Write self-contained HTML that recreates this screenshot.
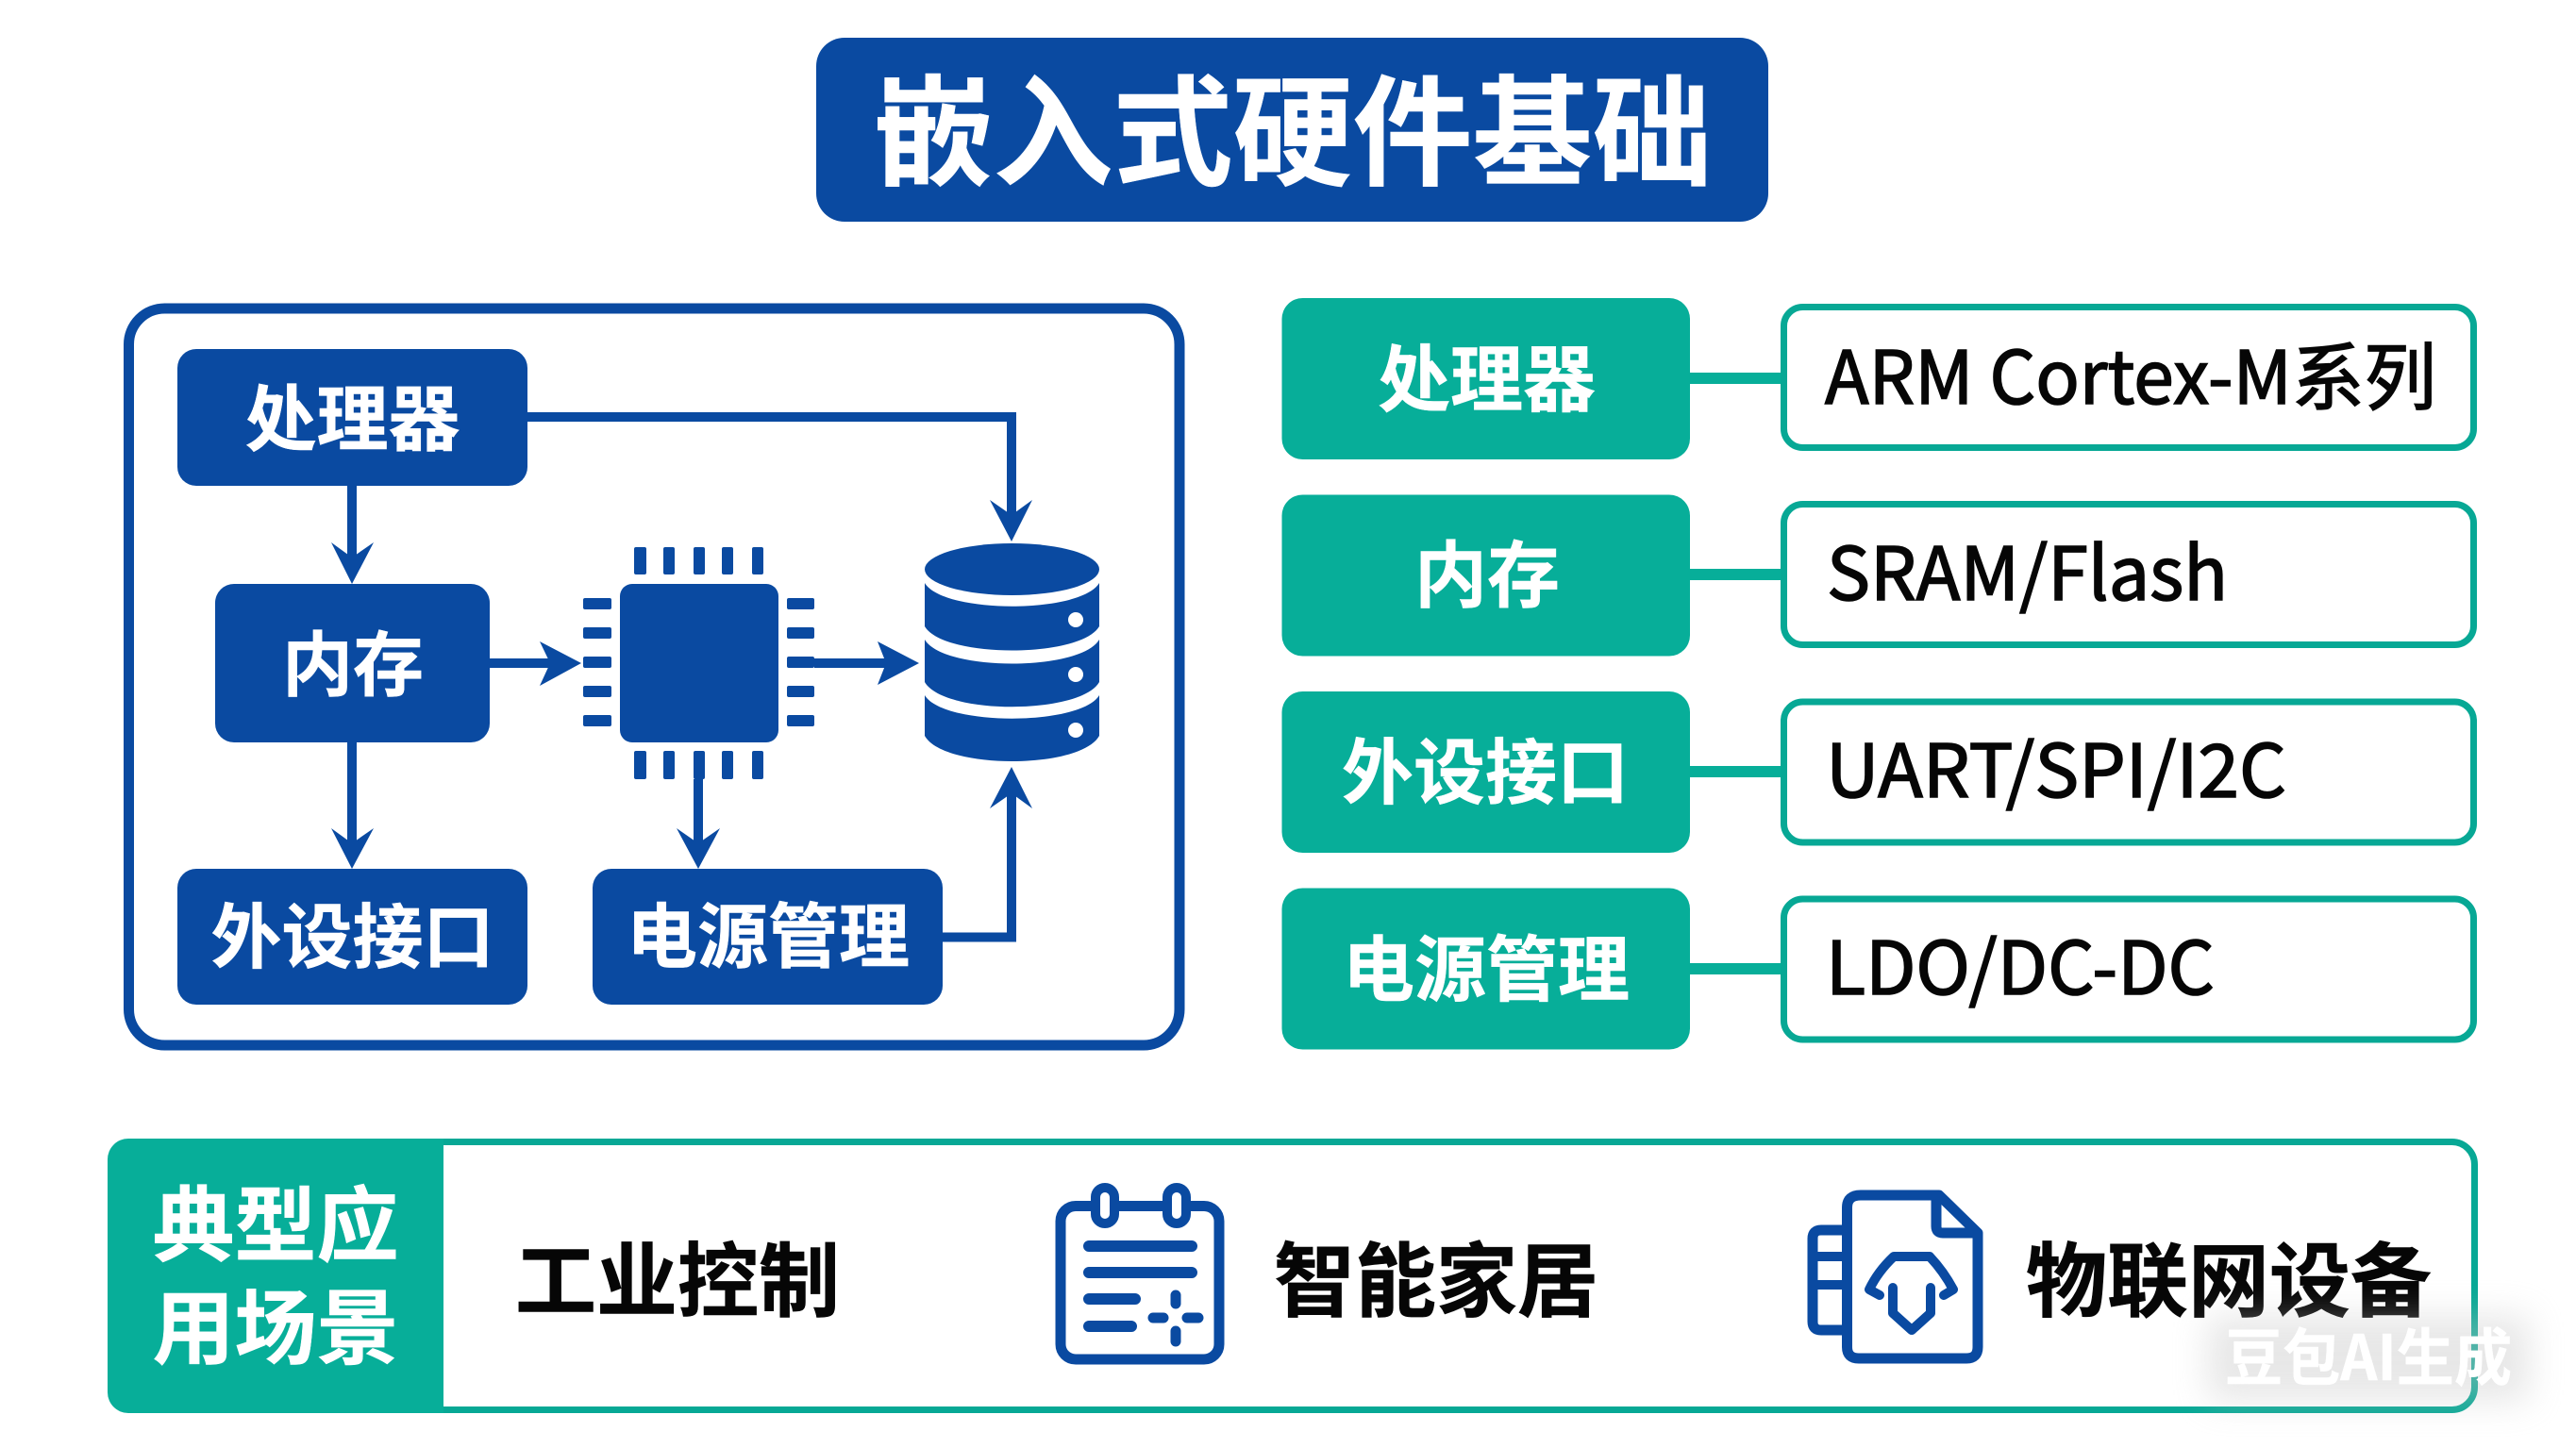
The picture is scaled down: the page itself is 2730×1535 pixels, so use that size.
<!DOCTYPE html>
<html><head><meta charset="utf-8"><style>
html,body{margin:0;padding:0;background:#fff;width:2730px;height:1535px;overflow:hidden}
svg{display:block}
text{font-family:"Noto Sans CJK SC","Liberation Sans",sans-serif;font-weight:700;text-anchor:middle;dominant-baseline:central}
.w{fill:#fff;stroke:#fff;stroke-width:.4}.k{fill:#060606;stroke:#060606;stroke-width:.6}
.l{font-weight:400;text-anchor:start;dominant-baseline:alphabetic;fill:#060606;stroke:#060606;stroke-width:1.6}
</style></head><body>
<svg width="2730" height="1535" viewBox="0 0 2730 1535" xmlns="http://www.w3.org/2000/svg">
<defs><filter id="gl" x="-30%" y="-60%" width="160%" height="220%"><feGaussianBlur stdDeviation="18"/></filter></defs>
<rect width="2730" height="1535" fill="#fff"/>
<rect x="865" y="40" width="1009" height="195" rx="30" fill="#0a4aa1"/>
<text class="w" x="1370" y="131.5" font-size="127">嵌入式硬件基础</text>

<rect x="136.5" y="327" width="1113.5" height="781" rx="38" fill="#fff" stroke="#0a4aa1" stroke-width="11"/>
<g fill="#0a4aa1">
<rect x="188" y="370" width="371" height="145" rx="20"/>
<rect x="228" y="619" width="291" height="168" rx="20"/>
<rect x="188" y="921" width="371" height="144" rx="20"/>
<rect x="628" y="921" width="371" height="144" rx="20"/>
<rect x="657" y="619" width="168" height="168" rx="13"/>
<rect x="672" y="580" width="13" height="29" rx="2"/><rect x="703" y="580" width="12" height="29" rx="2"/><rect x="735" y="580" width="12" height="29" rx="2"/><rect x="765" y="580" width="12" height="29" rx="2"/><rect x="797" y="580" width="12" height="29" rx="2"/>
<rect x="672" y="796" width="13" height="30" rx="2"/><rect x="703" y="796" width="12" height="30" rx="2"/><rect x="735" y="796" width="12" height="30" rx="2"/><rect x="765" y="796" width="12" height="30" rx="2"/><rect x="797" y="796" width="12" height="30" rx="2"/>
<rect x="618" y="634" width="30" height="12" rx="2"/><rect x="618" y="665" width="30" height="12" rx="2"/><rect x="618" y="696" width="30" height="12" rx="2"/><rect x="618" y="727" width="30" height="12" rx="2"/><rect x="618" y="758" width="30" height="12" rx="2"/>
<rect x="834" y="634" width="29" height="12" rx="2"/><rect x="834" y="665" width="29" height="12" rx="2"/><rect x="834" y="696" width="29" height="12" rx="2"/><rect x="834" y="727" width="29" height="12" rx="2"/><rect x="834" y="758" width="29" height="12" rx="2"/>
<ellipse cx="1072.5" cy="603.5" rx="92.5" ry="27.5"/>
<path d="M980 619 C1000 652 1145 652 1165 619 V665 C1145 699 1000 699 980 665Z" transform="translate(0,-1)"/>
<path d="M980 678 C1000 712 1145 712 1165 678 V723 C1145 758 1000 758 980 723Z"/>
<path d="M980 737 C1000 770 1145 770 1165 737 V780 C1145 816 1000 816 980 780Z"/>
<polygon points="373,619 351,575 373,591 396,575"/>
<polygon points="373,921 351,878 373,894 396,878"/>
<polygon points="740,921 717,878 740,894 763,878"/>
<polygon points="1072,574 1049,530 1072,546 1094,530"/>
<polygon points="1072,813 1049,857 1072,841 1094,857"/>
<polygon points="616,703 572,680 583,703 572,727"/>
<polygon points="974,703 930,680 939,703 930,726"/>
</g>
<g fill="#fff"><circle cx="1140" cy="657" r="8"/><circle cx="1140" cy="715" r="8"/><circle cx="1140" cy="774" r="8"/></g>
<g fill="none" stroke="#0a4aa1" stroke-width="10">
<path d="M373 515V595M373 787V898M740 826V898M519 703H585M863 703H941M559 442H1072V550M999 993.5H1072V838"/>
</g>
<text class="w" x="373.5" y="438.5" font-size="76">处理器</text>
<text class="w" x="374" y="699" font-size="75">内存</text>
<text class="w" x="373.5" y="987.5" font-size="75">外设接口</text>
<text class="w" x="814" y="987" font-size="75">电源管理</text>

<g fill="#07ae99">
<rect x="1358.5" y="316" width="432.5" height="171" rx="22"/>
<rect x="1358.5" y="524.5" width="432.5" height="171" rx="22"/>
<rect x="1358.5" y="733" width="432.5" height="171" rx="22"/>
<rect x="1358.5" y="941.5" width="432.5" height="171" rx="22"/>
<rect x="1791" y="395" width="100" height="12"/>
<rect x="1791" y="603" width="100" height="12"/>
<rect x="1791" y="812" width="100" height="12"/>
<rect x="1791" y="1021" width="100" height="12"/>
</g>
<g fill="#fff" stroke="#07a895" stroke-width="7">
<rect x="1890.5" y="325.5" width="731" height="149" rx="20"/>
<rect x="1890.5" y="534.5" width="731" height="149" rx="20"/>
<rect x="1890.5" y="744" width="731" height="149" rx="20"/>
<rect x="1890.5" y="953" width="731" height="149" rx="20"/>
</g>
<text class="w" x="1575.5" y="397.5" font-size="77">处理器</text>
<text class="w" x="1576" y="605" font-size="77">内存</text>
<text class="w" x="1574" y="813" font-size="76">外设接口</text>
<text class="w" x="1575" y="1022" font-size="76">电源管理</text>
<text class="l" x="1934" y="428" font-size="78" textLength="648" lengthAdjust="spacingAndGlyphs">ARM Cortex-M系列</text>
<text class="l" x="1936" y="636" font-size="78" textLength="425" lengthAdjust="spacingAndGlyphs">SRAM/Flash</text>
<text class="l" x="1935" y="845" font-size="78" textLength="488" lengthAdjust="spacingAndGlyphs">UART/SPI/I2C</text>
<text class="l" x="1935" y="1054" font-size="78" textLength="412" lengthAdjust="spacingAndGlyphs">LDO/DC-DC</text>

<rect x="117.5" y="1210.5" width="2505" height="284" rx="24" fill="#fff" stroke="#07a895" stroke-width="7"/>
<path d="M136 1207H470V1498H136A22 22 0 0 1 114 1476V1229A22 22 0 0 1 136 1207Z" fill="#07ae99"/>
<text class="w" x="292" y="1293" font-size="87">典型应</text>
<text class="w" x="292" y="1402" font-size="87">用场景</text>
<text class="k" x="718" y="1351" font-size="86">工业控制</text>
<text class="k" x="1522" y="1351" font-size="86">智能家居</text>
<text class="k" x="2362" y="1351" font-size="86">物联网设备</text>

<!-- calendar -->
<g fill="none" stroke="#0a4aa1" stroke-width="11" stroke-linecap="round" stroke-linejoin="round">
<rect x="1124" y="1278.5" width="168" height="162.5" rx="16"/>
<rect x="1161" y="1259" width="20" height="38" rx="10" fill="#fff" stroke-width="10"/>
<rect x="1237" y="1259" width="20" height="38" rx="10" fill="#fff" stroke-width="10"/>
<path d="M1154 1321H1263M1154 1349H1263M1154 1377H1203M1154 1406H1199" stroke-width="12"/>
<path d="M1246 1373V1382M1246 1411V1422M1222 1397H1233M1258 1397H1270" stroke-width="11"/>
</g>
<!-- document -->
<g fill="none" stroke="#0a4aa1" stroke-width="11" stroke-linejoin="round" stroke-linecap="round">
<path d="M1952 1304H1930Q1921 1304 1921 1313V1401Q1921 1410 1930 1410H1952"/>
<path d="M1921 1332H1952M1921 1362H1952" stroke-width="10"/>
<path d="M1972 1267H2055L2096 1307V1428Q2096 1440 2084 1440H1970Q1957.5 1440 1957.5 1428V1280Q1957.5 1267 1972 1267Z" fill="#fff"/>
<path d="M2052 1270V1300Q2052 1307 2059 1307H2094"/>
<path d="M1992 1373L1981 1367Q1990 1348 2007 1332H2045Q2060 1348 2070 1367L2060 1373" stroke-width="10"/>
<path d="M2006 1365V1392L2026 1410L2046 1392V1365" stroke-width="10"/>
</g>
<rect x="2340" y="1395" width="340" height="90" fill="#c4c4c4" opacity=".4" filter="url(#gl)"/>
<text class="w" x="2510" y="1435" font-size="66" textLength="304" lengthAdjust="spacingAndGlyphs">豆包AI生成</text>
</svg>
</body></html>
